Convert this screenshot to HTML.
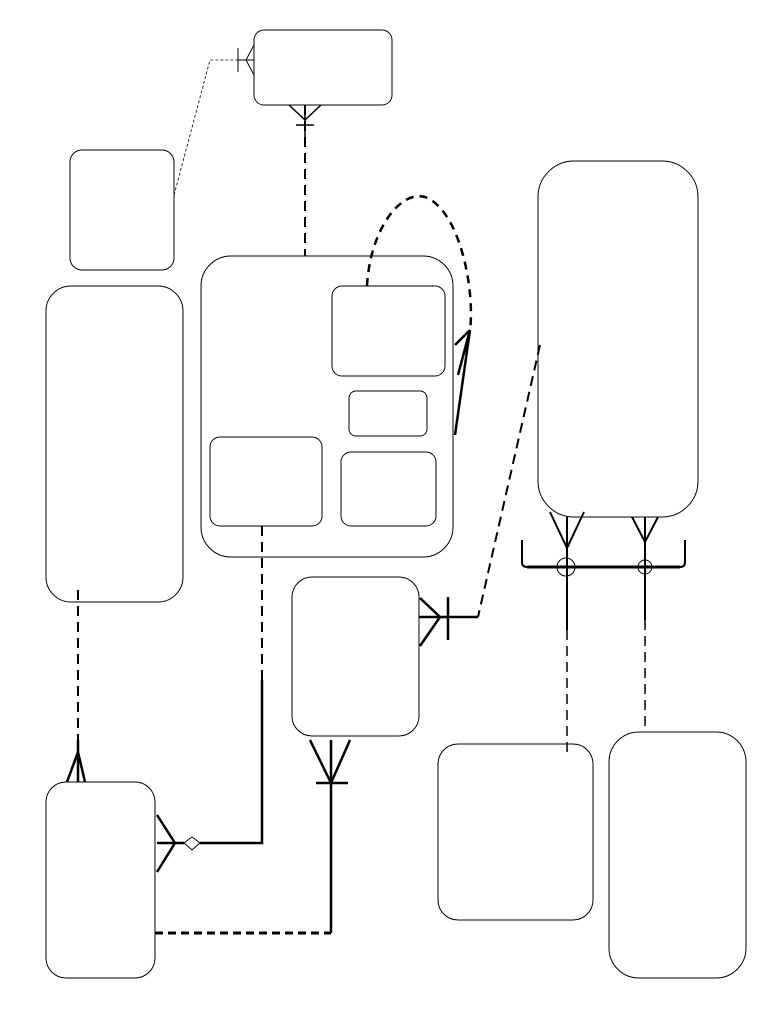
<!DOCTYPE html>
<html><head><meta charset="utf-8"><style>html,body{margin:0;padding:0;background:#fff}svg{display:block}</style></head>
<body>
<svg width="768" height="1024" viewBox="0 0 768 1024" xmlns="http://www.w3.org/2000/svg">
<g fill="none" stroke="#000" stroke-width="1">
<rect x="254" y="30" width="138" height="75" rx="10"/>
<rect x="70" y="150" width="104" height="120" rx="12"/>
<rect x="46" y="286" width="137" height="316" rx="25"/>
<rect x="201" y="256" width="252" height="301" rx="30"/>
<rect x="332" y="286" width="113" height="90" rx="10"/>
<rect x="349" y="391" width="78" height="45" rx="7"/>
<rect x="210" y="437" width="112" height="89" rx="10"/>
<rect x="341" y="452" width="95" height="74" rx="10"/>
<rect x="538" y="161" width="160" height="356" rx="36"/>
<rect x="292" y="577" width="127" height="159" rx="20"/>
<rect x="46" y="782" width="109" height="196" rx="20"/>
<rect x="438" y="744" width="155" height="176" rx="20"/>
<rect x="609" y="732" width="137" height="246" rx="30"/>
</g>
<g fill="none" stroke="#000">
<!-- top thin dashed -->
<path d="M174 195 L210 60 L238 60" stroke-width="0.8" stroke-dasharray="3,2"/>
<path d="M238 60 L254 60 M238 48 L238 72 M254 45 L246 60 L254 75" stroke-width="1"/>
<!-- top box bottom -->
<path d="M305 105 L305 256" stroke-width="2" stroke-dasharray="10,6"/>
<path d="M305 105 L305 140 M289 105 L305 120 L321 105 M296 125 L314 125" stroke-width="1.5"/>
<!-- self loop -->
<path d="M367 286 C 370 230 400 190 425 197 C 460 210 475 290 470 330" stroke-width="2.5" stroke-dasharray="8,6"/>
<path d="M470 330 L455 435 M470 330 L455 345 M470 330 L458 375" stroke-width="2.5"/>
<!-- right tall to middle -->
<path d="M540 345 L478 617" stroke-width="2" stroke-dasharray="10,6"/>
<path d="M478 617 L419 617 M440 617 L420 598 M440 617 L420 646 M448 597 L448 640" stroke-width="2.5"/>
<!-- bracket -->
<path d="M522 540 L522 562 Q522 567 527 567 L680 567 Q685 567 685 562 L685 540" stroke-width="2"/>
<path d="M527 567 L680 567" stroke-width="3"/>
<path d="M567 517 L567 630 M550 512 L567 548 L584 512 M645 517 L645 620 M632 517 L645 542 L658 517" stroke-width="2"/>
<circle cx="566" cy="567" r="9" stroke-width="1"/>
<circle cx="645" cy="567" r="7" stroke-width="1"/>
<path d="M567 630 L567 752 M645 620 L645 730" stroke-width="1.5" stroke-dasharray="10,6"/>
<!-- left tall down -->
<path d="M78 590 L78 740" stroke-width="2" stroke-dasharray="10,6"/>
<path d="M78 740 L78 782 M78 752 L67 782 M78 752 L85 782" stroke-width="2.5"/>
<!-- inner box to bottom-left -->
<path d="M262 526 L262 680" stroke-width="2" stroke-dasharray="10,6"/>
<path d="M262 680 L262 843 L200 843" stroke-width="2.5"/>
<path d="M200 843 L192 837 L184 843 L192 850 Z" stroke-width="1" fill="#fff"/>
<path d="M184 843 L157 843 M175 843 L157 815 M175 843 L157 872" stroke-width="2.5"/>
<!-- bottom-left to middle -->
<path d="M155 933 L331 933" stroke-width="3" stroke-dasharray="8,5"/>
<path d="M331 933 L331 740 M316 783 L348 783 M331 783 L310 740 M331 783 L350 740" stroke-width="2.5"/>
</g>
</svg>
</body></html>
